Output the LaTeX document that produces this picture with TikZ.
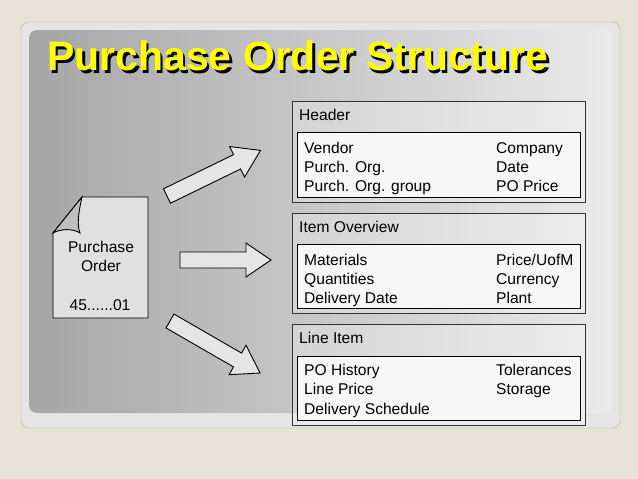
\documentclass[tikz,border=0pt]{standalone}
\usepackage{fontspec}
\setmainfont{Liberation Sans}
\definecolor{bgc}{HTML}{E8E3D9}
\definecolor{ttl}{HTML}{FFFF00}
\tikzset{
 outerbox/.style={draw=black!80,line width=0.8pt,fill=white,fill opacity=0.25},
 innerbox/.style={draw=black,line width=1pt,fill=white!97!black},
 txt/.style={anchor=base west,inner sep=0pt,font=\fontsize{15.6}{18}\selectfont},
 bigarrow/.style={draw=black,line width=0.9pt,fill=black!10},
 ttlfont/.style={anchor=base west,inner sep=0pt,font=\fontsize{41}{46}\selectfont\bfseries},
}
\begin{document}
\begin{tikzpicture}[x=1pt,y=-1pt]
\useasboundingbox (0,0) rectangle (638,479);
\fill[bgc] (0,0) rectangle (638,479);
\draw[black!30,fill=black!10,rounded corners=8] (21,22) rectangle (620,428);
\shade[left color=black!35,right color=black!8,rounded corners=8] (29,30) rectangle (612,413);
% title
\node[ttlfont,text=black] (tshadow) at (49.5,73) {Purchase Order Structure};
\node[ttlfont,text=ttl] (title) at (47,70.5) {Purchase Order Structure};
% document
\draw[line width=0.9pt,fill=black!12] (82,197) -- (148,197) -- (148,318) -- (53,318) -- (53,233) -- cycle;
\draw[line width=0.9pt,fill=black!25] (82,197) .. controls (78,215) and (77,225) .. (80,233) .. controls (72,228) and (60,229) .. (53,233) -- cycle;
\node[align=center,font=\fontsize{15.6}{19}\selectfont,inner sep=0pt] (doc) at (101,256) {Purchase\\Order};
\node[font=\fontsize{15.6}{19}\selectfont,inner sep=0pt] (num) at (100,305) {45......01};
% arrows
\begin{scope}[shift={(167,196)},rotate=26]
\draw[bigarrow] (0,-8) -- (78,-8) -- (78,-17) -- (104,0) -- (78,17) -- (78,8) -- (0,8) -- cycle;
\end{scope}
\begin{scope}[shift={(180,260)}]
\draw[bigarrow] (0,-8) -- (66,-8) -- (66,-17) -- (91,0) -- (66,17) -- (66,8) -- (0,8) -- cycle;
\end{scope}
\begin{scope}[shift={(170,321)},rotate=-30]
\draw[bigarrow] (0,-8) -- (78,-8) -- (78,-17) -- (104,0) -- (78,17) -- (78,8) -- (0,8) -- cycle;
\end{scope}
% boxes
\draw[outerbox] (292,101) rectangle (585,202);
\draw[innerbox] (297,132) rectangle (580,197);
\node[txt] (h) at (299,120) {Header};
\node[txt] at (304,153) {Vendor};
\node[txt] at (304,172) {Purch. Org.};
\node[txt] at (304,191) {Purch. Org. group};
\node[txt] at (496,153) {Company};
\node[txt] at (496,172) {Date};
\node[txt] at (496,191) {PO Price};
\draw[outerbox] (292,213) rectangle (585,313);
\draw[innerbox] (297,244) rectangle (580,308);
\node[txt] (io) at (299,232) {Item Overview};
\node[txt] at (304,265) {Materials};
\node[txt] at (304,284) {Quantities};
\node[txt] at (304,303) {Delivery Date};
\node[txt] at (496,265) {Price/UofM};
\node[txt] at (496,284) {Currency};
\node[txt] at (496,303) {Plant};
\draw[outerbox] (292,324) rectangle (585,425);
\draw[innerbox] (297,356) rectangle (580,420);
\node[txt] (li) at (299,343) {Line Item};
\node[txt] at (304,375) {PO History};
\node[txt] at (304,394) {Line Price};
\node[txt] at (304,414) {Delivery Schedule};
\node[txt] at (496,375) {Tolerances};
\node[txt] at (496,394) {Storage};
\end{tikzpicture}
\end{document}
